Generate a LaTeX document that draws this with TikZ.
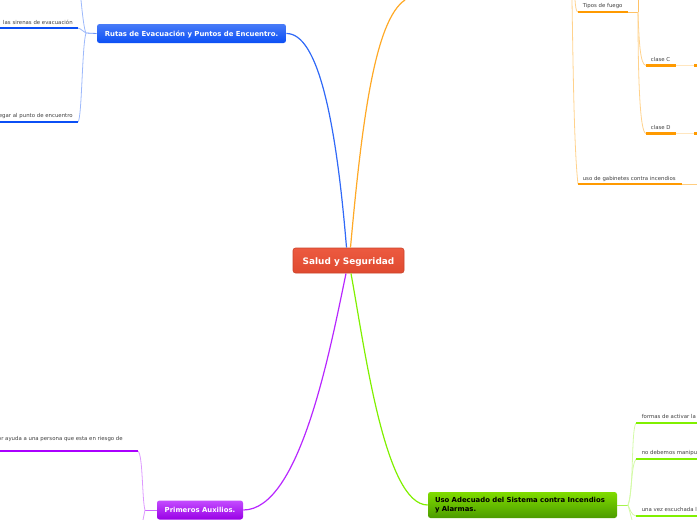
\documentclass[tikz,border=0pt]{standalone}
\usepackage{fontspec}
\setmainfont{DejaVu Sans}
\usepackage{tikz}
\definecolor{rutasblue}{HTML}{0B4FF5}
\definecolor{fuegoorange}{HTML}{FF9A00}
\definecolor{alarmgreen}{HTML}{80F000}
\definecolor{auxpurple}{HTML}{AA00FF}
\definecolor{saludtop}{HTML}{EC5A40}
\definecolor{saludbot}{HTML}{E04A30}
\definecolor{greentop}{HTML}{80DC00}
\definecolor{greenbot}{HTML}{4C9C00}
\begin{document}
\begin{tikzpicture}[x=1pt,y=1pt,auto,semithick]
	\tikzstyle{topic}=[rounded corners=2.5pt,minimum height=19pt,inner sep=0pt,text=white,text height=5.5pt,text depth=0pt,font=\fontsize{6.9}{8.6}\selectfont\bfseries]
	\tikzstyle{leaf}=[inner sep=0pt,text=black!75,font=\fontsize{5.4}{6}\selectfont]
	\tikzstyle{bar}=[line width=2.7pt]
	\tikzstyle{twig}=[line width=.8pt]
	\tikzstyle{bough}=[line width=1.2pt]
	
	\useasboundingbox (0,0) rectangle (697,-520);
	\clip (0,0) rectangle (697,-520);
	
	\node[topic,minimum width=111pt,minimum height=25pt,text height=7pt,draw=saludbot!90!black,top color=saludtop,bottom color=saludbot,font=\fontsize{8.9}{10}\selectfont\bfseries] (S) at (348.5,-260.5) {Salud y Seguridad};
	\node[topic,minimum width=189pt,top color=rutasblue!75,bottom color=rutasblue] (R) at (191.5,-33.5) {Rutas de Evacuación y Puntos de Encuentro.};
	\node[topic,minimum width=86pt,top color=auxpurple!70,bottom color=auxpurple!90!black] (P) at (200,-510) {Primeros Auxilios.};
	\node[topic,minimum width=189pt,minimum height=26pt,text=black,text height=,text depth=,top color=greentop,bottom color=greenbot,align=left,text width=175pt] (U) at (522.5,-505) {Uso Adecuado del Sistema contra Incendios\\y Alarmas.};
	
	% left, blue
	\coordinate (Rj) at (86,-33);
	\coordinate (Rt) at (81,0);
	\coordinate (R1a) at (0,-28);
	\coordinate (R1b) at (78,-28);
	\coordinate (R2a) at (0,-122);
	\coordinate (R2b) at (78,-122);
	\node[leaf,anchor=base east] (R1) at (73,-24) {las sirenas de evacuación};
	\node[leaf,anchor=base east] (R2) at (73,-117) {llegar al punto de encuentro};
	
	% left, purple
	\coordinate (Pj) at (145,-510);
	\coordinate (Pe) at (143,-520);
	\coordinate (P1a) at (0,-451);
	\coordinate (P1b) at (138,-451);
	\node[leaf,anchor=base east] (P1) at (123,-440) {por ayuda a una persona que esta en riesgo de};
	
	% right, orange
	\coordinate (Ot) at (405,0);
	\coordinate (Tt) at (572,0);
	\coordinate (Tu) at (575,0);
	\coordinate (T1a) at (578,-12);
	\coordinate (T1b) at (628,-12);
	\coordinate (Tj) at (638,-12);
	\coordinate (Tk) at (638,0);
	\coordinate (C1a) at (646,-65.5);
	\coordinate (C1b) at (676,-65.5);
	\coordinate (C1c) at (694,-65.5);
	\coordinate (C1d) at (697,-65.5);
	\coordinate (D1a) at (646,-133.5);
	\coordinate (D1b) at (676,-133.5);
	\coordinate (D1c) at (694,-133.5);
	\coordinate (D1d) at (697,-133.5);
	\coordinate (G1a) at (578,-184);
	\coordinate (G1b) at (682,-184);
	\coordinate (G1c) at (697,-184);
	\node[leaf,anchor=base west] (T1) at (582.5,-7) {Tipos de fuego};
	\node[leaf,anchor=base west] (C1) at (650.5,-61) {clase C};
	\node[leaf,anchor=base west] (D1) at (650.5,-129) {clase D};
	\node[leaf,anchor=base west] (G1) at (582.5,-180) {uso de gabinetes contra incendios};
	
	% right, green
	\coordinate (Uj) at (628,-505);
	\coordinate (Ue) at (632,-520);
	\coordinate (A1a) at (636,-423);
	\coordinate (A1b) at (697,-423);
	\coordinate (A2a) at (636,-459);
	\coordinate (A2b) at (697,-459);
	\coordinate (A3a) at (636,-516);
	\coordinate (A3b) at (697,-516);
	\node[leaf,anchor=base west] (A1) at (641.5,-418) {formas de activar la};
	\node[leaf,anchor=base west] (A2) at (641.5,-454) {no debemos manipular};
	\node[leaf,anchor=base west] (A3) at (641.5,-511) {una vez escuchada la};
	
	% main boughs
	\draw[bough,rutasblue!85] (346.5,-247.5) .. controls (336,-120) and (318,-33) .. (R.east);
	\draw[bough,fuegoorange!85] (350.5,-247.5) .. controls (362,-120) and (375,-20) .. (Ot);
	\draw[bough,auxpurple!85] (346,-273.5) .. controls (330,-350) and (300,-510) .. (P.east);
	\draw[bough,alarmgreen] (351,-273.5) .. controls (365,-350) and (385,-505) .. (U.west);
	
	% blue twigs
	\draw[twig,rutasblue!60] (R.west) -- (Rj);
	\draw[twig,rutasblue!40] (Rj) .. controls (84,-30) and (82,-10) .. (Rt);
	\draw[twig,rutasblue!40] (Rj) .. controls (83,-32) and (82,-29) .. (R1b);
	\draw[twig,rutasblue!40] (Rj) .. controls (82,-45) and (82,-118) .. (R2b);
	\draw[bar,rutasblue] (R1a) -- (R1b);
	\draw[bar,rutasblue] (R2a) -- (R2b);
	
	% purple twigs
	\draw[twig,auxpurple!60] (P.west) -- (Pj);
	\draw[twig,auxpurple!40] (Pj) .. controls (142,-500) and (143,-455) .. (P1b);
	\draw[twig,auxpurple!40] (Pj) -- (Pe);
	\draw[bar,auxpurple] (P1a) -- (P1b);
	
	% orange twigs
	\draw[twig,fuegoorange!45] (Tt) .. controls (573,-60) and (574,-150) .. (G1a);
	\draw[twig,fuegoorange!45] (Tu) .. controls (575.5,-6) and (576,-12) .. (T1a);
	\draw[twig,fuegoorange!60] (T1b) -- (Tj);
	\draw[twig,fuegoorange!60] (Tj) -- (Tk);
	\draw[twig,fuegoorange!45] (Tj) .. controls (639,-40) and (640,-65) .. (C1a);
	\draw[twig,fuegoorange!45] (Tj) .. controls (638,-80) and (640,-133) .. (D1a);
	\draw[line width=1.2pt,fuegoorange!25] (C1b) -- (C1c);
	\draw[line width=1.2pt,fuegoorange!25] (D1b) -- (D1c);
	\draw[twig,fuegoorange!50] (G1b) -- (G1c);
	\draw[bar,fuegoorange] (T1a) -- (T1b);
	\draw[bar,fuegoorange] (C1a) -- (C1b);
	\draw[bar,fuegoorange] (C1c) -- (C1d);
	\draw[bar,fuegoorange] (D1a) -- (D1b);
	\draw[bar,fuegoorange] (D1c) -- (D1d);
	\draw[bar,fuegoorange] (G1a) -- (G1b);
	
	% green twigs
	\draw[twig,alarmgreen!70] (U.east) -- (Uj);
	\draw[twig,alarmgreen!35] (Uj) .. controls (634,-490) and (631,-430) .. (A1a);
	\draw[twig,alarmgreen!35] (Uj) .. controls (632,-495) and (631,-465) .. (A2a);
	\draw[twig,alarmgreen!35] (Uj) .. controls (630,-509) and (631,-515) .. (A3a);
	\draw[twig,alarmgreen!35] (Uj) -- (Ue);
	\draw[bar,alarmgreen] (A1a) -- (A1b);
	\draw[bar,alarmgreen] (A2a) -- (A2b);
	\draw[bar,alarmgreen] (A3a) -- (A3b);
\end{tikzpicture}
\end{document}
